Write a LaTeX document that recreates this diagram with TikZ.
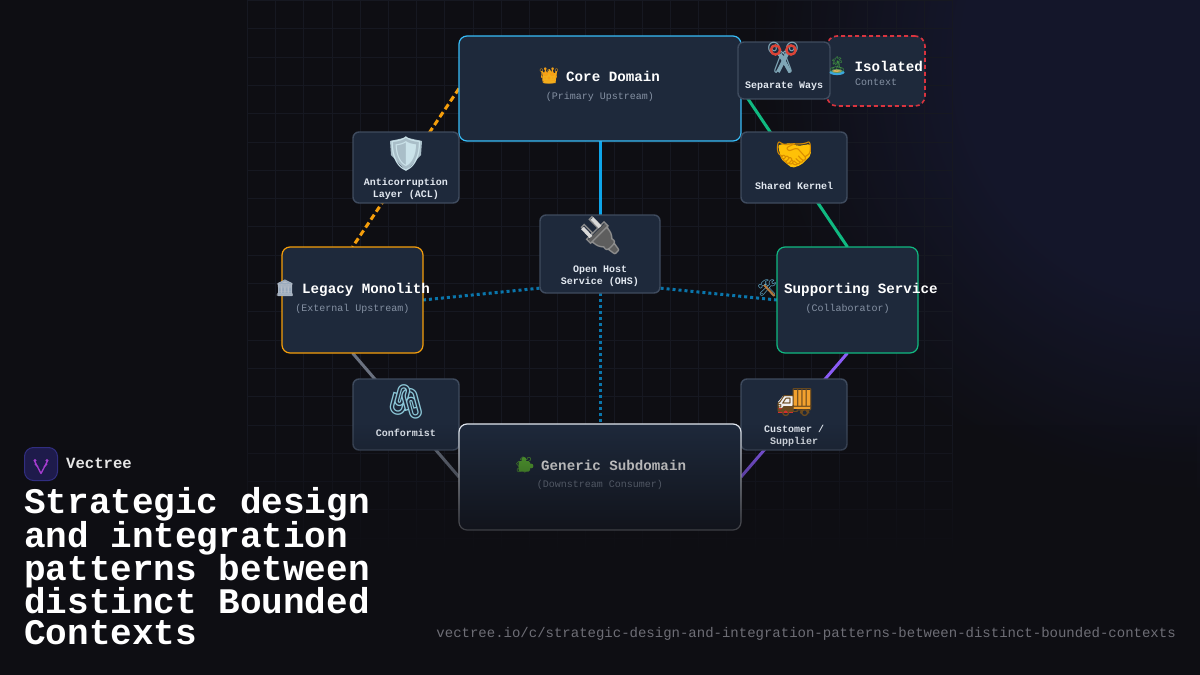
\documentclass[tikz,border=0pt]{standalone}
\usepackage{fontspec}
\usetikzlibrary{fadings}
\setmainfont{Liberation Mono}
\newfontfamily\emo{Noto Emoji}
\definecolor{bgc}{HTML}{0E0E13}
\definecolor{glowc}{HTML}{14162A}
\definecolor{gridc}{HTML}{161821}
\definecolor{nodef}{HTML}{1E293B}
\definecolor{smallb}{HTML}{3F4B5E}
\definecolor{coreb}{HTML}{38BDF8}
\definecolor{legb}{HTML}{F59E0B}
\definecolor{supb}{HTML}{10B981}
\definecolor{isob}{HTML}{D9343F}
\definecolor{genb}{HTML}{E2E8F0}
\definecolor{subc}{HTML}{8591A3}
\definecolor{smallt}{HTML}{E2E8F0}
\definecolor{violetc}{HTML}{8B5CF6}
\definecolor{grayl}{HTML}{6B7280}
\definecolor{bluel}{HTML}{0EA5E9}
\definecolor{dotl}{HTML}{0A76AC}
\definecolor{urlc}{HTML}{6E6E76}
\definecolor{logof}{HTML}{1E1B4B}
\definecolor{logob}{HTML}{312E81}
\definecolor{logol}{HTML}{A63CD0}
\definecolor{goldc}{HTML}{F2B01E}
\definecolor{steelc}{HTML}{7FA6B6}
\definecolor{clipc}{HTML}{8CC8D8}
\definecolor{seac}{HTML}{3BA7DC}
\definecolor{sandc}{HTML}{E0B060}
\definecolor{palmc}{HTML}{3E8E41}
\definecolor{templec}{HTML}{94A7BB}
\definecolor{toolc}{HTML}{B5783C}
\definecolor{puzzc}{HTML}{5AB032}
\definecolor{redc}{HTML}{DB4437}
\definecolor{yelc}{HTML}{FFC107}
\definecolor{yeld}{HTML}{D98C00}
\definecolor{shielda}{HTML}{A9BEC8}
\definecolor{shieldb}{HTML}{CBE3EA}
\definecolor{pluga}{HTML}{5E5E5E}
\definecolor{plugb}{HTML}{8D8D8D}
\definecolor{plugc}{HTML}{D8D8D8}
\definecolor{truckc}{HTML}{F2A12E}
\definecolor{truckw}{HTML}{F1F1F1}
\definecolor{truckr}{HTML}{D32F2F}
\definecolor{truckd}{HTML}{6B4A1E}
\pgfdeclareradialshading{bgglow}{\pgfpoint{0bp}{0bp}}{color(0bp)=(glowc); color(13.5bp)=(glowc); color(25bp)=(bgc); color(50bp)=(bgc)}
\tikzfading[name=scrimfade, top color=transparent!100, bottom color=transparent!0]
\tikzset{
  x=1pt,y=-1pt,
  box/.style={rounded corners=8pt,fill=nodef,inner sep=0pt,outer sep=0pt,line width=1.2pt},
  smallbox/.style={box,draw=smallb,rounded corners=6pt,line width=1.4pt},
  bigtitle/.style={anchor=base west,inner sep=0pt,text=white,font=\fontsize{14.2}{16}\selectfont\bfseries},
  subtitle/.style={anchor=base,inner sep=0pt,text=subc,font=\fontsize{10}{12}\selectfont},
  smalllabel/.style={anchor=base,inner sep=0pt,text=smallt,font=\fontsize{10}{12}\selectfont\bfseries},
  emojismall/.style={inner sep=0pt,font=\emo\fontsize{16}{16}\selectfont},
  emojibig/.style={inner sep=0pt,font=\emo\fontsize{31}{31}\selectfont},
  dotline/.style={draw=dotl,line width=3pt,dash pattern=on 3pt off 3pt},
  dashline/.style={draw=legb,line width=3pt,dash pattern=on 6pt off 3.5pt},
  solidline/.style={line width=3pt},
  ghost/.style={box,draw=none,fill=none},
}
\begin{document}
\begin{tikzpicture}
\useasboundingbox (0,0) rectangle (1200,675);
\fill[bgc] (0,0) rectangle (1200,675);
\begin{scope}
\clip (0,0) rectangle (1200,675);
\shade[shading=bgglow] (1200,60) circle (440);
\end{scope}
% grid
\foreach \i in {0,...,25}{\draw[gridc,line width=1pt] ({247.5+28.2*\i},0) -- ({247.5+28.2*\i},675);}
\foreach \j in {0,...,23}{\draw[gridc,line width=1pt] (247.5,{0.5+28.3*\j}) -- (952.5,{0.5+28.3*\j});}
% anchors for connectors
\coordinate (ohsj) at (600,282);
\node[ghost,minimum width=282pt,minimum height=105pt] (core0) at (600,88.5) {};
\node[ghost,minimum width=141pt,minimum height=106pt] (legacy0) at (352.5,300) {};
\node[ghost,minimum width=141pt,minimum height=106pt] (support0) at (847.5,300) {};
\node[ghost,minimum width=282pt,minimum height=106pt] (generic0) at (600,477) {};
\node[ghost,minimum width=120pt,minimum height=78pt] (ohs0) at (600,254) {};
% connectors
\draw[dashline] (core0.west) -- (legacy0.north);
\draw[solidline,supb] (core0.east) -- (support0.north);
\draw[solidline,bluel] (core0.south) -- (ohs0.north);
\draw[solidline,grayl] (legacy0.south) -- (generic0.west);
\draw[solidline,violetc] (support0.south) -- (generic0.east);
\draw[dotline] (legacy0.east) -- (ohsj);
\draw[dotline] (support0.west) -- (ohsj);
\draw[dotline] (ohs0.south) -- (generic0.north);
% nodes
\node[box,draw=coreb,minimum width=282pt,minimum height=105pt] (core) at (600,88.5) {};
\node[box,draw=legb,minimum width=141pt,minimum height=106pt] (legacy) at (352.5,300) {};
\node[box,draw=supb,minimum width=141pt,minimum height=106pt] (support) at (847.5,300) {};
\node[box,draw=isob,dash pattern=on 4pt off 3pt,line width=1.6pt,rounded corners=10pt,minimum width=98pt,minimum height=70pt] (isolated) at (876,71) {};
\node[smallbox,minimum width=92pt,minimum height=57pt] (separate) at (784,70.5) {};
\node[smallbox,minimum width=106pt,minimum height=71pt] (shared) at (794,167.5) {};
\node[smallbox,minimum width=106pt,minimum height=71pt] (acl) at (406,167.5) {};
\node[smallbox,minimum width=120pt,minimum height=78pt] (ohs) at (600,254) {};
\node[smallbox,minimum width=106pt,minimum height=71pt] (conformist) at (406,414.5) {};
\node[smallbox,minimum width=106pt,minimum height=71pt] (customer) at (794,414.5) {};
\node[box,draw=genb,minimum width=282pt,minimum height=106pt] (generic) at (600,477) {};
% crown
\fill[goldc] (542,71) -- (546,75) -- (549.5,69) -- (553,75) -- (557,71) -- (555.5,83) -- (543.5,83) -- cycle;
\node[emojismall,text=goldc!70!orange] (crown) at (549,76) {👑};
\node[bigtitle] (coret) at (566,81) {Core Domain};
\node[subtitle] (cores) at (600,99) {(Primary Upstream)};
% island
\fill[seac] (837,72.5) ellipse (7.5 and 2.6);
\fill[sandc] (837,71) ellipse (5 and 1.8);
\node[emojismall,text=palmc] (isl) at (837,65) {🏝};
\node[bigtitle] (isot) at (854.5,71) {Isolated};
\node[subtitle,anchor=base west] (isos) at (855,85) {Context};
% temple
\fill[templec] (278,283) -- (285,280) -- (292,283) -- (292,296) -- (278,296) -- cycle;
\node[emojismall,text=subc!60!white] (temple) at (285,288) {🏛};
\node[bigtitle] (legt) at (302,293) {Legacy Monolith};
\node[subtitle] (legs) at (352.5,311) {(External Upstream)};
% tools
\node[emojismall,text=coreb!40!steelc] (tools) at (767,288) {🛠};
\draw[toolc,line width=2pt] (764,285) -- (774.5,296);
\node[bigtitle] (supt) at (784,293) {Supporting Service};
\node[subtitle] (sups) at (847.5,311) {(Collaborator)};
% puzzle
\fill[puzzc,rounded corners=1.5pt] (518.5,461) rectangle (530,471.5);
\fill[puzzc] (524,459.5) circle (2.4) (531,466) circle (2.4);
\node[emojismall,text=puzzc] (puzzle) at (524,465) {🧩};
\node[bigtitle] (gent) at (541,470) {Generic Subdomain};
\node[subtitle] (gens) at (600,487) {(Downstream Consumer)};
% scissors
\draw[steelc,line width=3.6pt] (780,54) -- (790,72) (787,54) -- (778,72);
\node[emojibig,text=steelc] (sciss) at (783,58) {✂};
\draw[redc,line width=2.4pt] (775.5,50) circle (4.6) (791,50) circle (4.6);
\node[smalllabel] (sept) at (784,88) {Separate Ways};
% handshake
\fill[yelc,rounded corners=2pt] (778,145) -- (790,143) -- (798,146) -- (810,144) -- (811,155) -- (801,165) -- (792,168) -- (781,159) -- cycle;
\node[emojibig,text=yeld] (shake) at (794,154) {🤝};
\node[smalllabel] (shat) at (794,189) {Shared Kernel};
% shield
\fill[shielda] (390,141) -- (406,137.5) -- (422,141) -- (421,155) -- (406,171) -- (391,155) -- cycle;
\node[emojibig,text=shieldb,font=\emo\fontsize{34}{34}\selectfont] (shield) at (406,154) {🛡};
\node[smalllabel] (aclt1) at (406,185.5) {Anticorruption};
\node[smalllabel] (aclt2) at (406,197.5) {Layer (ACL)};
% plug
\fill[pluga] (605,223) -- (608,226) -- (613,240) -- (619,250) -- (616,254) -- (605,248) -- (592,243) -- (588,240) -- cycle;
\node[emojibig,text=plugb,font=\emo\fontsize{38}{38}\selectfont] (plug) at (600,236) {🔌};
\draw[plugc,line width=3.6pt] (592,218.5) -- (600,227) (582.5,228) -- (591,237);
\node[smalllabel] (ohst1) at (600,272) {Open Host};
\node[smalllabel] (ohst2) at (600,284) {Service (OHS)};
% clips
\node[emojibig,text=clipc,font=\emo\fontsize{34}{34}\selectfont] (clips) at (406,402) {🖇};
\node[smalllabel] (cont) at (406,436) {Conformist};
% truck
\fill[truckc] (793,390) rectangle (811,409);
\fill[truckw] (778,402) -- (783,396) -- (793,396) -- (793,410) -- (778,410) -- cycle;
\fill[truckr] (778,408) rectangle (793,413);
\node[emojibig,text=truckd,font=\emo\fontsize{29}{29}\selectfont] (truck) at (794.5,403) {🚚};
\node[smalllabel] (cust1) at (794,432) {Customer /};
\node[smalllabel] (cust2) at (794,444) {Supplier};
% bottom scrim
\fill[bgc,path fading=scrimfade] (0,424) rectangle (1200,560);
\fill[bgc] (0,560) rectangle (1200,675);
% branding
\node[draw=logob,fill=logof,rounded corners=9pt,line width=1pt,minimum width=33pt,minimum height=33pt,inner sep=0pt] (logo) at (41,464) {};
\draw[logol,line width=1.3pt,line cap=round,line join=round] (34.5,461) -- (41,473.5) -- (47.5,461);
\draw[logol,line width=1.1pt,line cap=round] (35,464) -- (38,467);
\draw[logol,line width=1.1pt,line cap=round] (47,464) -- (44,467);
\fill[logol] (35,460.5) circle (1.6) (47,460.5) circle (1.6);
\node[anchor=base west,inner sep=0pt,text=white!90!black,font=\fontsize{15.6}{18}\selectfont\bfseries] (brand) at (66,468) {Vectree};
\node[anchor=base west,inner sep=0pt,text=white,align=left,font=\fontsize{36}{32.5}\selectfont\bfseries] (title) at (24,644) {Strategic design\\[-1.6pt]and integration\\[-1.6pt]patterns between\\[-1.6pt]distinct Bounded\\[-1.6pt]Contexts};
\node[anchor=base east,inner sep=0pt,text=urlc,font=\fontsize{14}{16}\selectfont] (url) at (1176,637) {vectree.io/c/strategic-design-and-integration-patterns-between-distinct-bounded-contexts};
\end{tikzpicture}
\end{document}
